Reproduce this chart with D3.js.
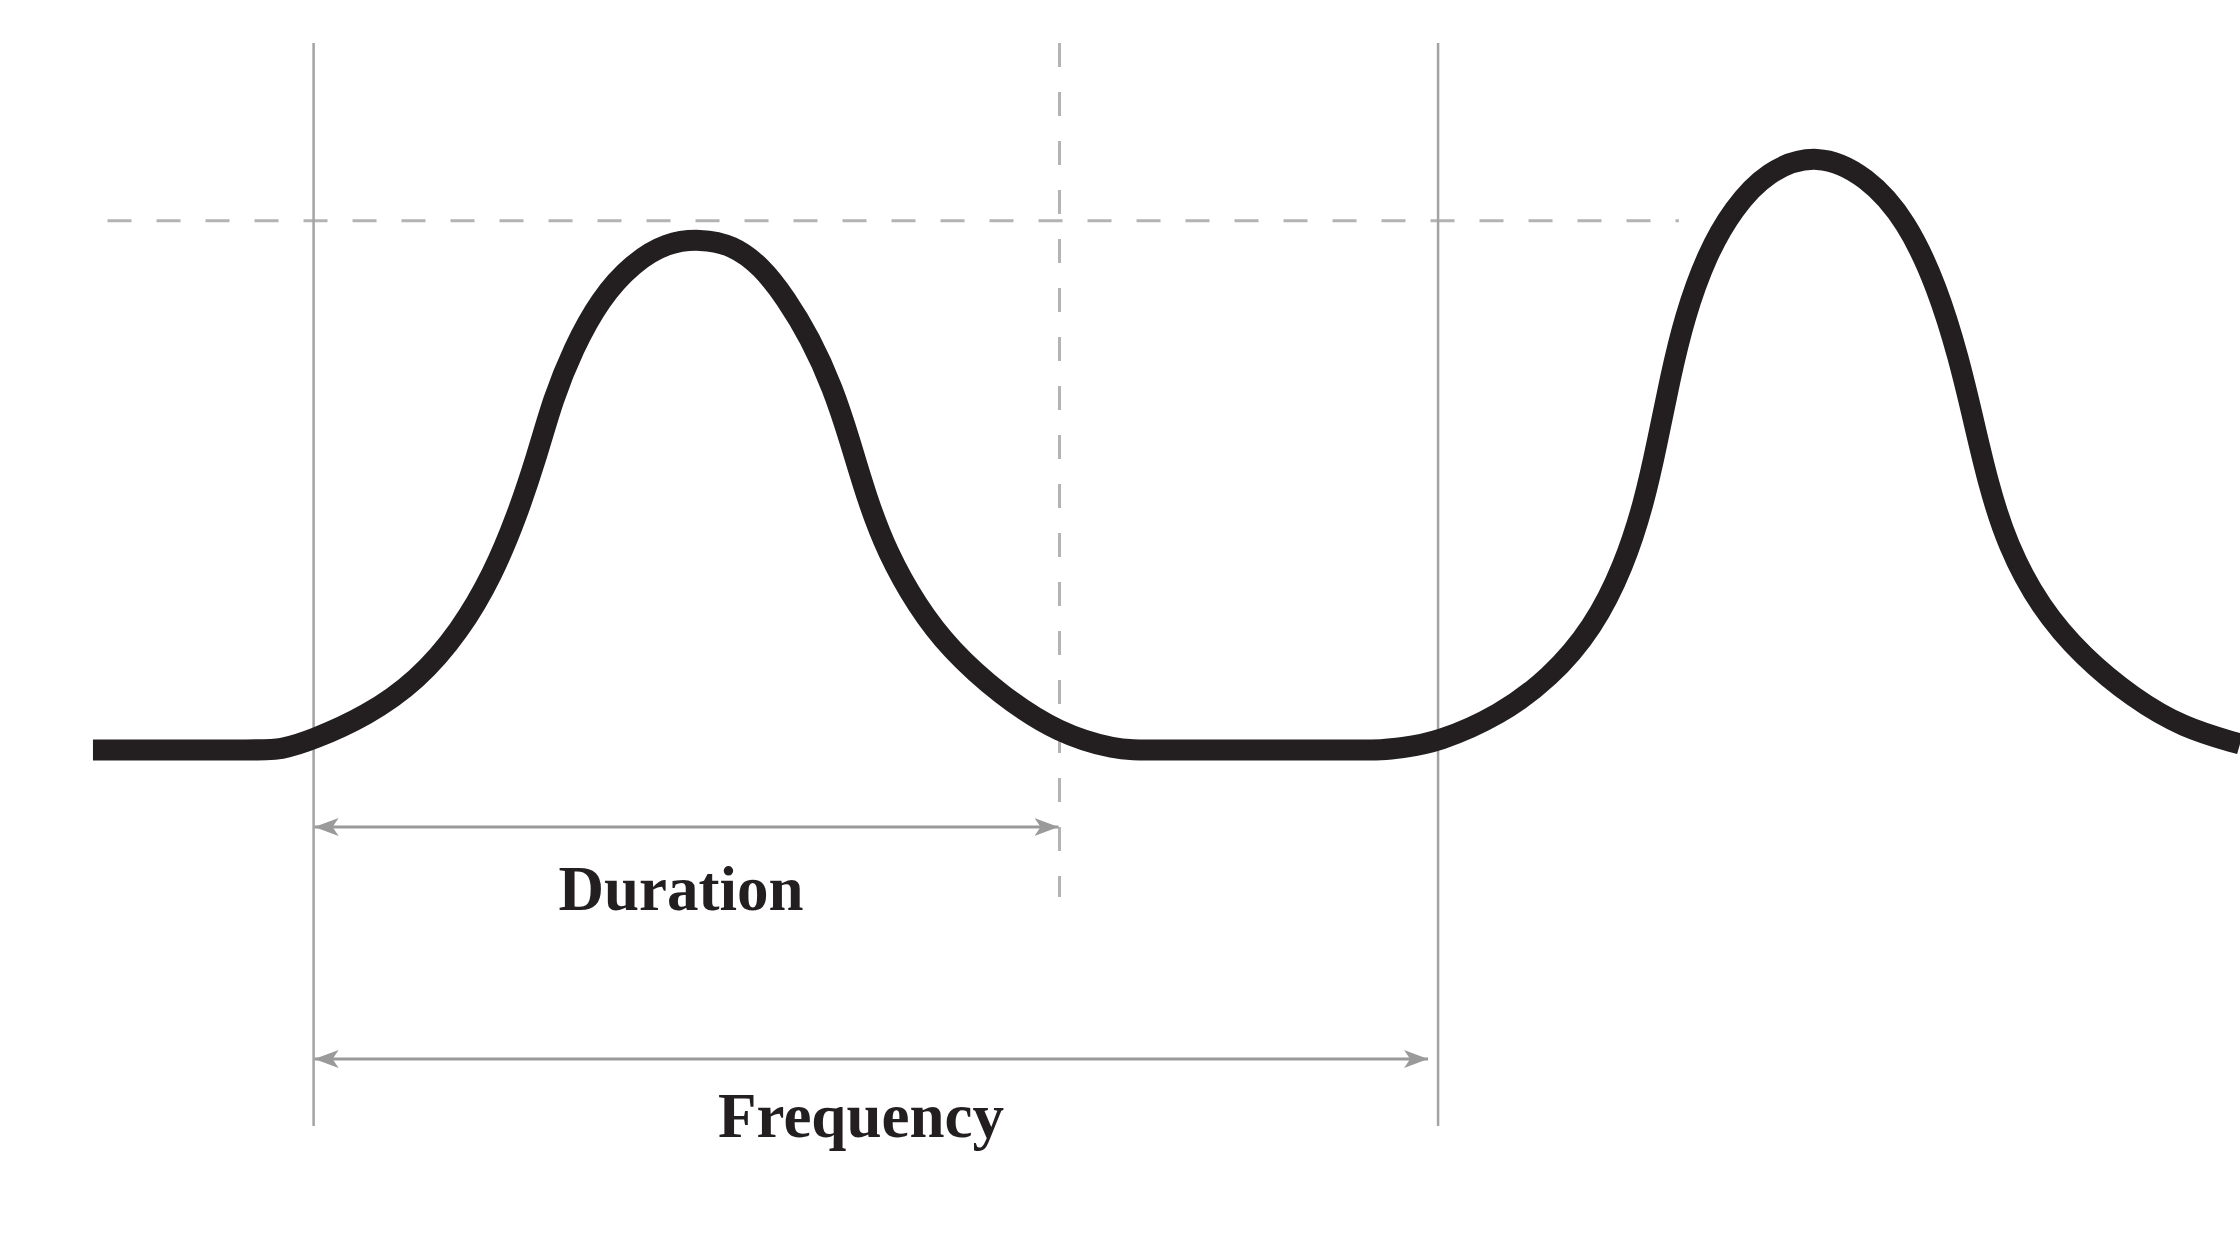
<!DOCTYPE html>
<html>
<head>
<meta charset="utf-8">
<script src="https://cdn.jsdelivr.net/npm/d3@7"></script>
<style>
	html, body {
		margin: 0;
		padding: 0;
		background: #fff;
	}
	#graphic svg {
		display: block;
	}
	.pulse {
		fill: none;
		stroke: #231f20;
		stroke-width: 21;
		stroke-linecap: butt;
		stroke-linejoin: round;
	}
	.guide {
		stroke: #a3a3a3;
		stroke-width: 2.5;
	}
	.guide.dashed {
		stroke: #b3b3b3;
		stroke-width: 3;
		stroke-dasharray: 24 25;
	}
	.span-arrow {
		stroke: #9a9a9a;
		stroke-width: 3;
	}
	.span-label {
		font-family: "Liberation Serif", "Times New Roman", serif;
		font-weight: bold;
		font-size: 63px;
		fill: #231f20;
	}
</style>
</head>
<body>
<div id="graphic"></div>
<script>
// Globals
var WIDTH = 2240;
var HEIGHT = 1260;

// Signal trace: time (0-100) and level (0 = resting, 100 = tallest peak)
var PULSE_TIME = [
	4.15, 11.5, 12.5, 13.97, 16.38, 18.62, 20.54, 22.01, 23.08, 23.97, 24.69,
	25.58, 26.79, 28.26, 29.78, 31.25, 32.7, 34.0, 35.1, 36.16, 37.19, 37.95,
	38.71, 39.6, 40.94, 42.41, 44.64, 47.28, 49.87, 51, 61, 61.6, 62.5, 64.2,
	66.96, 69.2, 71.12, 72.5, 73.4, 74.0, 74.55, 75.2, 76.21, 77.37,
	78.88, 81.12, 83.35, 85.13, 86.5, 87.45, 88.1, 88.75, 89.6, 91.07,
	92.99, 95.22, 97.46, 100
];
var PULSE_LEVEL = [
	0, 0, 0, 1.7, 5.7, 11.5, 19.8, 29.3, 39, 49, 58.5,
	66.8, 75.2, 81.2, 84.6, 85.2, 84.2, 80.6, 75.2, 68.7, 60.3, 51.5,
	41.8, 33, 24, 16.8, 9.2, 2.7, 0, 0, 0, 0, 0.3, 1.3,
	5.8, 12, 20.3, 30.7, 41.2, 51.5, 61.8, 72.2, 82.7, 90.2,
	96.5, 99.6, 95.7, 88.2, 77, 65.3, 55, 44.5, 34.2, 23.8,
	15.5, 8.7, 3.7, 1
];

// Threshold level and the time span it is drawn over
var THRESHOLD_LEVEL = 88.2;
var THRESHOLD_SPAN = [4.8, 74.95];

// Marker times: pulse onset, end of duration, start of next pulse
var ONSET_TIME = 14.0;
var DURATION_END = 47.3;
var NEXT_ONSET = 64.2;

var SPANS = [
	{ 'label': 'Duration', 'from': ONSET_TIME, 'to': DURATION_END },
	{ 'label': 'Frequency', 'from': ONSET_TIME, 'to': NEXT_ONSET }
];

/*
 * Render the graphic.
 */
function renderGraphic() {
	var svg = d3.select('#graphic').append('svg')
		.attr('width', WIDTH)
		.attr('height', HEIGHT);

	var xScale = d3.scaleLinear()
		.domain([0, 100])
		.range([0, WIDTH]);

	var yScale = d3.scaleLinear()
		.domain([0, 100])
		.range([750, 150]);

	// arrowheads
	var defs = svg.append('defs');
	['start', 'end'].forEach(function(kind) {
		defs.append('marker')
			.attr('id', 'arrow-' + kind)
			.attr('viewBox', '0 0 24 18')
			.attr('markerWidth', 24)
			.attr('markerHeight', 18)
			.attr('markerUnits', 'userSpaceOnUse')
			.attr('refX', kind == 'end' ? 24 : 0)
			.attr('refY', 9)
			.attr('orient', 'auto')
			.append('path')
			.attr('d', kind == 'end' ? 'M0,0 L24,9 L0,18 L6,9 Z' : 'M24,0 L0,9 L24,18 L18,9 Z')
			.attr('fill', '#9a9a9a');
	});

	var guides = svg.append('g').attr('class', 'guides');

	// threshold line
	guides.append('line')
		.attr('class', 'guide dashed')
		.attr('x1', xScale(THRESHOLD_SPAN[0]))
		.attr('x2', xScale(THRESHOLD_SPAN[1]))
		.attr('y1', yScale(THRESHOLD_LEVEL))
		.attr('y2', yScale(THRESHOLD_LEVEL));

	// onset lines
	guides.selectAll('line.solid')
		.data([ONSET_TIME, NEXT_ONSET])
		.enter().append('line')
		.attr('class', 'guide solid')
		.attr('x1', function(d) { return xScale(d); })
		.attr('x2', function(d) { return xScale(d); })
		.attr('y1', 43)
		.attr('y2', 1126);

	// end of duration
	guides.append('line')
		.attr('class', 'guide dashed')
		.attr('x1', xScale(DURATION_END))
		.attr('x2', xScale(DURATION_END))
		.attr('y1', 43)
		.attr('y2', 897);

	// the trace
	var pulseData = PULSE_TIME.map(function(t, i) {
		return { 'time': t, 'level': PULSE_LEVEL[i] };
	});

	var pulseLine = d3.line()
		.curve(d3.curveBasis)
		.x(function(d) { return xScale(d['time']); })
		.y(function(d) { return yScale(d['level']); });

	svg.append('path')
		.datum(pulseData)
		.attr('class', 'pulse')
		.attr('d', pulseLine);

	// spans
	var arrowY = [827, 1059];
	var labelX = [681, 861];
	var labelY = [910, 1137];

	var spans = svg.append('g').attr('class', 'spans')
		.selectAll('g')
		.data(SPANS)
		.enter().append('g');

	spans.append('line')
		.attr('class', 'span-arrow')
		.attr('x1', function(d) { return xScale(d['from']) + 1; })
		.attr('x2', function(d, i) { return xScale(d['to']) - (i == 1 ? 10 : 1); })
		.attr('y1', function(d, i) { return arrowY[i]; })
		.attr('y2', function(d, i) { return arrowY[i]; })
		.attr('marker-start', 'url(#arrow-start)')
		.attr('marker-end', 'url(#arrow-end)');

	spans.append('text')
		.attr('class', 'span-label')
		.attr('x', function(d, i) { return labelX[i]; })
		.attr('y', function(d, i) { return labelY[i]; })
		.attr('text-anchor', 'middle')
		.text(function(d) { return d['label']; });
}

document.addEventListener("DOMContentLoaded", function() {
	renderGraphic();
});
</script>
</body>
</html>
